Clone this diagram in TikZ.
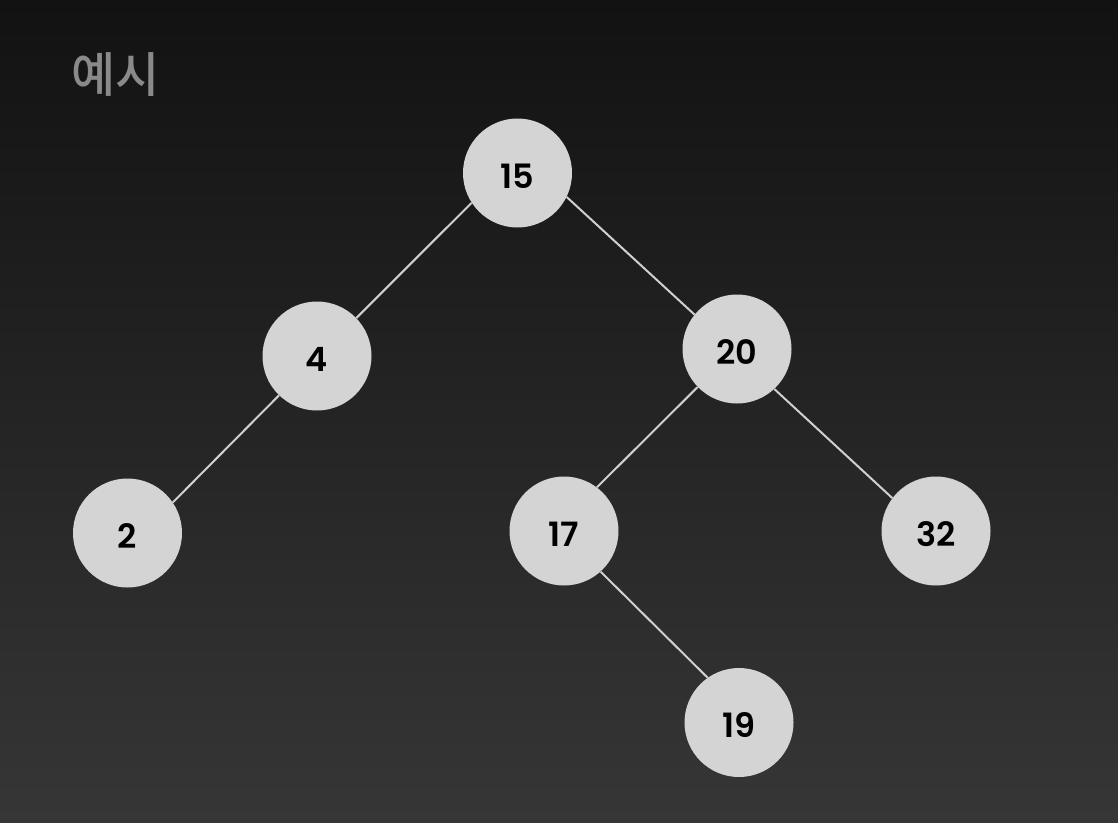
\documentclass[tikz,border=0pt]{standalone}
\usepackage{fontspec}
\newfontfamily\numfont{Poppins SemiBold}
\newfontfamily\cjkfont{Noto Sans CJK KR Medium}
\usetikzlibrary{positioning}
\definecolor{bgtop}{HTML}{121212}
\definecolor{bgbot}{HTML}{363636}
\definecolor{nodefill}{HTML}{D4D4D4}
\definecolor{edgecol}{HTML}{D0D0D0}
\definecolor{titlecol}{HTML}{8A8A8A}
\tikzset{
  vtx/.style={circle, fill=nodefill, minimum size=109pt, inner sep=0pt,
    text height=30pt, text depth=0pt,
    font=\numfont\fontsize{33.5}{33.5}\selectfont, text=black},
  edge/.style={edgecol, line width=2pt}
}

\begin{document}
\begin{tikzpicture}[x=1pt, y=-1pt]
\shade[top color=bgtop, bottom color=bgbot] (0,0) rectangle (1118,822);
\useasboundingbox (0,0) rectangle (1118,822);
\node[anchor=west, text=titlecol, font=\cjkfont\fontsize{48}{48}\selectfont] (title) at (67.5,75) {예시};
\node[vtx] (n15) at (517.5,173) {15};
\node[vtx] (n4) at (317,356) {4};
\node[vtx] (n20) at (737,349) {20};
\node[vtx] (n2) at (127.5,533) {2};
\node[vtx] (n17) at (564,531) {17};
\node[vtx] (n32) at (936,531) {32};
\node[vtx] (n19) at (739,722.5) {19};
\draw[edge] (n15.213.5) -- (n4.44.7);
\draw[edge] (n15.334.7) -- (n20.141);
\draw[edge] (n4.226) -- (n2.34);
\draw[edge] (n20.224) -- (n17.53);
\draw[edge] (n20.313) -- (n32.143);
\draw[edge] (n17.312.7) -- (n19.125);
\end{tikzpicture}
\end{document}
